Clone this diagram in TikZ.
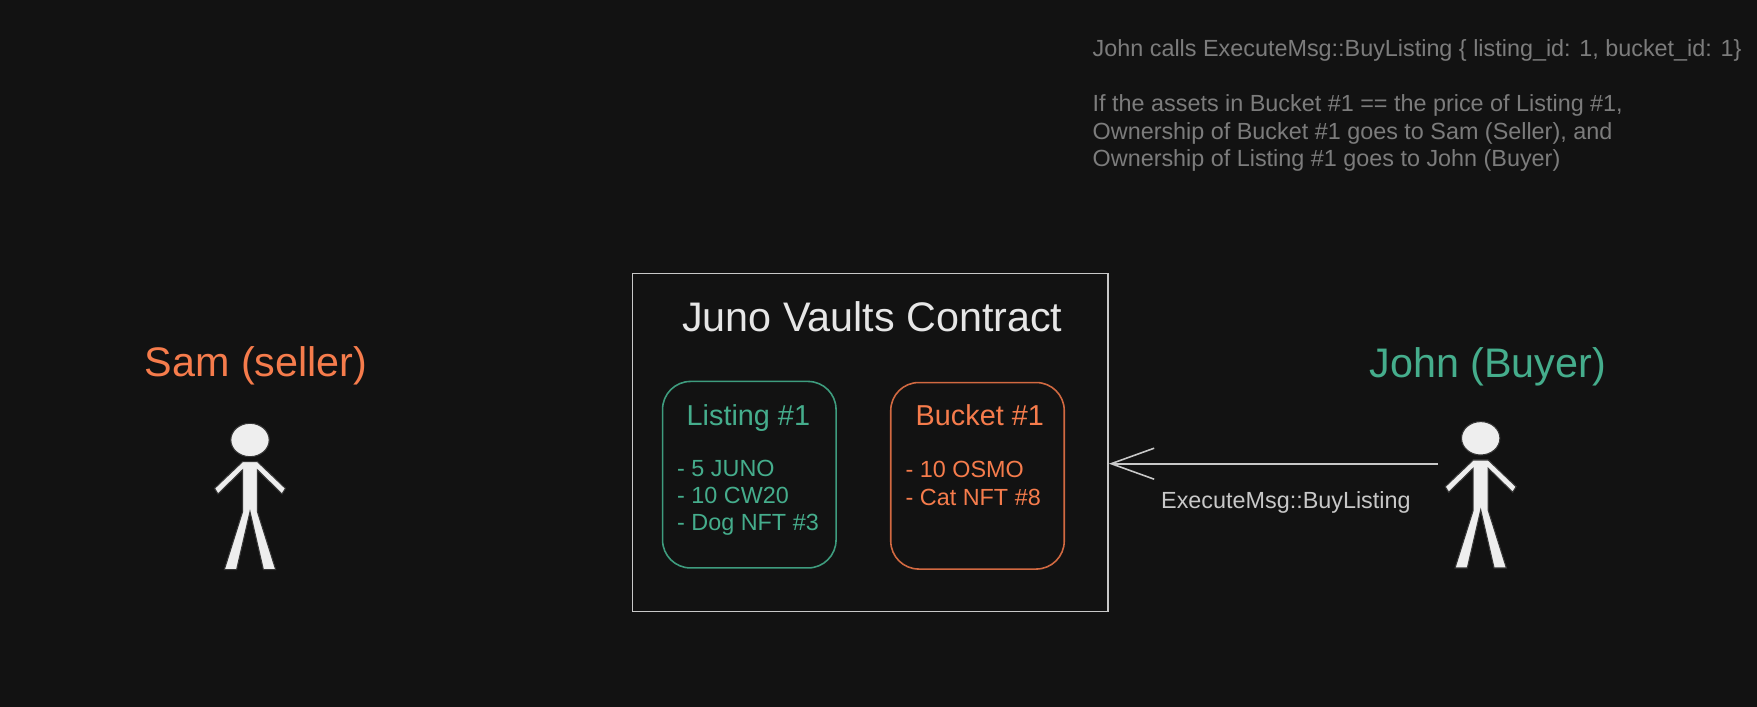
\documentclass[tikz,border=0pt]{standalone}
\usepackage{fontspec}
\setmainfont{Liberation Sans}
\usepackage{xcolor}
\usetikzlibrary{arrows.meta}
\definecolor{canvas}{HTML}{121212}
\definecolor{buyergreen}{HTML}{45AD8C}
\definecolor{sellerorange}{HTML}{F67C4C}
\definecolor{framegrey}{HTML}{C8C8C8}
\definecolor{notegrey}{HTML}{7C7C7C}
\definecolor{figurewhite}{HTML}{EEEEEE}
\definecolor{titlewhite}{HTML}{E6E6E6}
\tikzset{
    actorname/.style={anchor=base west, inner sep=0pt, font=\fontsize{11.75}{14}\selectfont},
    boxtitle/.style={anchor=base west, inner sep=0pt, font=\fontsize{8.2}{10}\selectfont},
    assetlist/.style={anchor=base west, inner sep=0pt, align=left, font=\fontsize{6.65}{7.82}\selectfont},
    bucketbox/.style={draw, rounded corners=.28cm, line width=.45pt, minimum width=1.735cm, minimum height=1.865cm},
    stickman/.pic={
        \fill[figurewhite, draw=white!15!canvas, line width=.3pt] (0, 0) ellipse (.192 and .167);
        \fill[figurewhite, draw=white!15!canvas, line width=.3pt]
            (-.075, -.217) -- (-.355, -.484) -- (-.32, -.54) -- (-.075, -.30) -- (-.075, -.72)
            -- (-.257, -1.297) -- (-.134, -1.297) -- (0, -.717) -- (.134, -1.297) -- (.257, -1.297)
            -- (.075, -.72) -- (.075, -.30) -- (.32, -.54) -- (.355, -.484) -- (.075, -.217) -- cycle;
        \coordinate (-grip) at (-.427, -.254);
    },
}
\begin{document}
\begin{tikzpicture}
    \fill[canvas] (0, 0) rectangle (17.57, 7.07);
    \useasboundingbox (0, 0) rectangle (17.57, 7.07);

    \node[actorname, text=sellerorange] (samname) at (1.44, 3.305) {Sam (seller)};
    \node[actorname, text=buyergreen] (johnname) at (13.69, 3.295) {John (Buyer)};
    \pic (sam) at (2.50, 2.67) {stickman};
    \pic (john) at (14.807, 2.687) {stickman};

    \node[draw=framegrey, line width=.45pt, minimum width=4.757cm, minimum height=3.384cm] (vaults) at (8.702, 2.645) {};
    \node[actorname, text=titlewhite] (vaultstitle) at (6.815, 3.75) {Juno Vaults Contract};

    \node[bucketbox, draw=buyergreen!90!black] (listing) at (7.493, 2.323) {};
    \node[bucketbox, draw=sellerorange!85!black] (bucket) at (9.775, 2.312) {};
    \node[boxtitle, text=buyergreen] (listingtitle) at (6.86, 2.817) {Listing \#1};
    \node[boxtitle, text=sellerorange] (buckettitle) at (9.15, 2.813) {Bucket \#1};
    \node[assetlist, text=buyergreen] (listingassets) at (6.765, 1.76) {- 5 JUNO\\- 10 CW20\\- Dog NFT \#3};
    \node[assetlist, text=sellerorange] (bucketassets) at (9.05, 2.017) {- 10 OSMO\\- Cat NFT \#8};

    \draw[framegrey, line width=.5pt, -{Straight Barb[length=.43cm, width=.31cm, line width=.45pt]}] (john-grip) -- (john-grip -| vaults.east);
    \node[assetlist, text=framegrey] (sendlabel) at (11.605, 1.985) {ExecuteMsg::BuyListing};

    \node[assetlist, text=notegrey] (notetext) at (10.92, 5.405)
        {John calls ExecuteMsg::BuyListing \{ listing\_id: 1, bucket\_id: 1\}\\ \\If the assets in Bucket \#1 == the price of Listing \#1,\\Ownership of Bucket \#1 goes to Sam (Seller), and\\Ownership of Listing \#1 goes to John (Buyer)};
\end{tikzpicture}
\end{document}
